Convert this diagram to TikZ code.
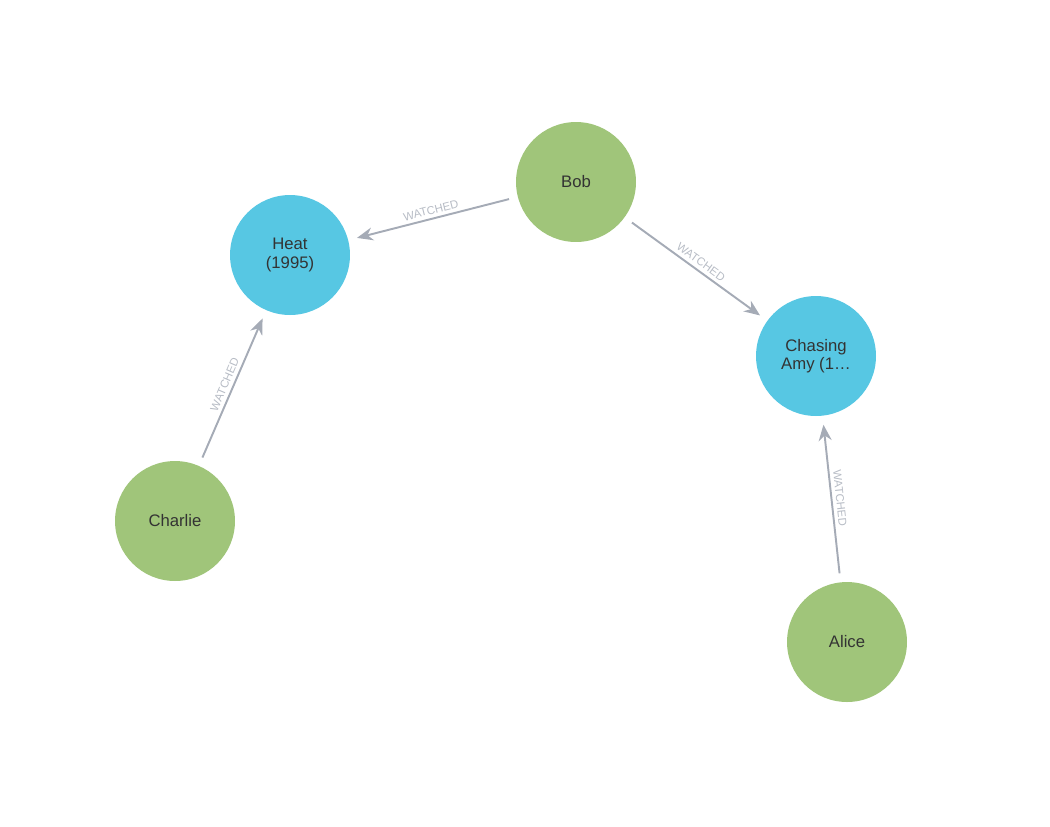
\documentclass[tikz,border=0pt]{standalone}
\usepackage{fontspec}
\setmainfont{Liberation Sans}
\usetikzlibrary{arrows.meta}
\definecolor{person}{HTML}{A0C57A}
\definecolor{movie}{HTML}{57C7E3}
\definecolor{edgegray}{HTML}{A5ABB6}
\definecolor{txt}{HTML}{333333}
\tikzset{
  person/.style={circle, fill=person, minimum size=2.4cm, inner sep=0pt, text=txt, font=\fontsize{9.5}{10.5}\selectfont, align=center},
  movie/.style={person, fill=movie},
  watched/.style={draw=edgegray, line width=1.1pt, -{Stealth[length=3.2mm, width=2.6mm]}, shorten <=5pt, shorten >=5pt},
  rel/.style={midway, sloped, above, inner sep=2pt, text=edgegray!80, font=\fontsize{6.5}{7}\selectfont}
}
\begin{document}
\begin{tikzpicture}[x=0.02cm, y=-0.02cm]
  \useasboundingbox (0,0) rectangle (1050,826);
  \node[person] (bob) at (576,182) {Bob};
  \node[movie] (heat) at (290,255) {Heat\\(1995)};
  \node[movie] (amy) at (816,356) {Chasing\\Amy (1…};
  \node[person] (charlie) at (175,521) {Charlie};
  \node[person] (alice) at (847,642) {Alice};

  \draw[watched] (bob) -- (heat) node[rel]{WATCHED};
  \draw[watched] (bob) -- (amy) node[rel]{WATCHED};
  \draw[watched] (charlie) -- (heat) node[rel]{WATCHED};
  \draw[watched] (alice) -- (amy) node[rel]{WATCHED};
\end{tikzpicture}
\end{document}
